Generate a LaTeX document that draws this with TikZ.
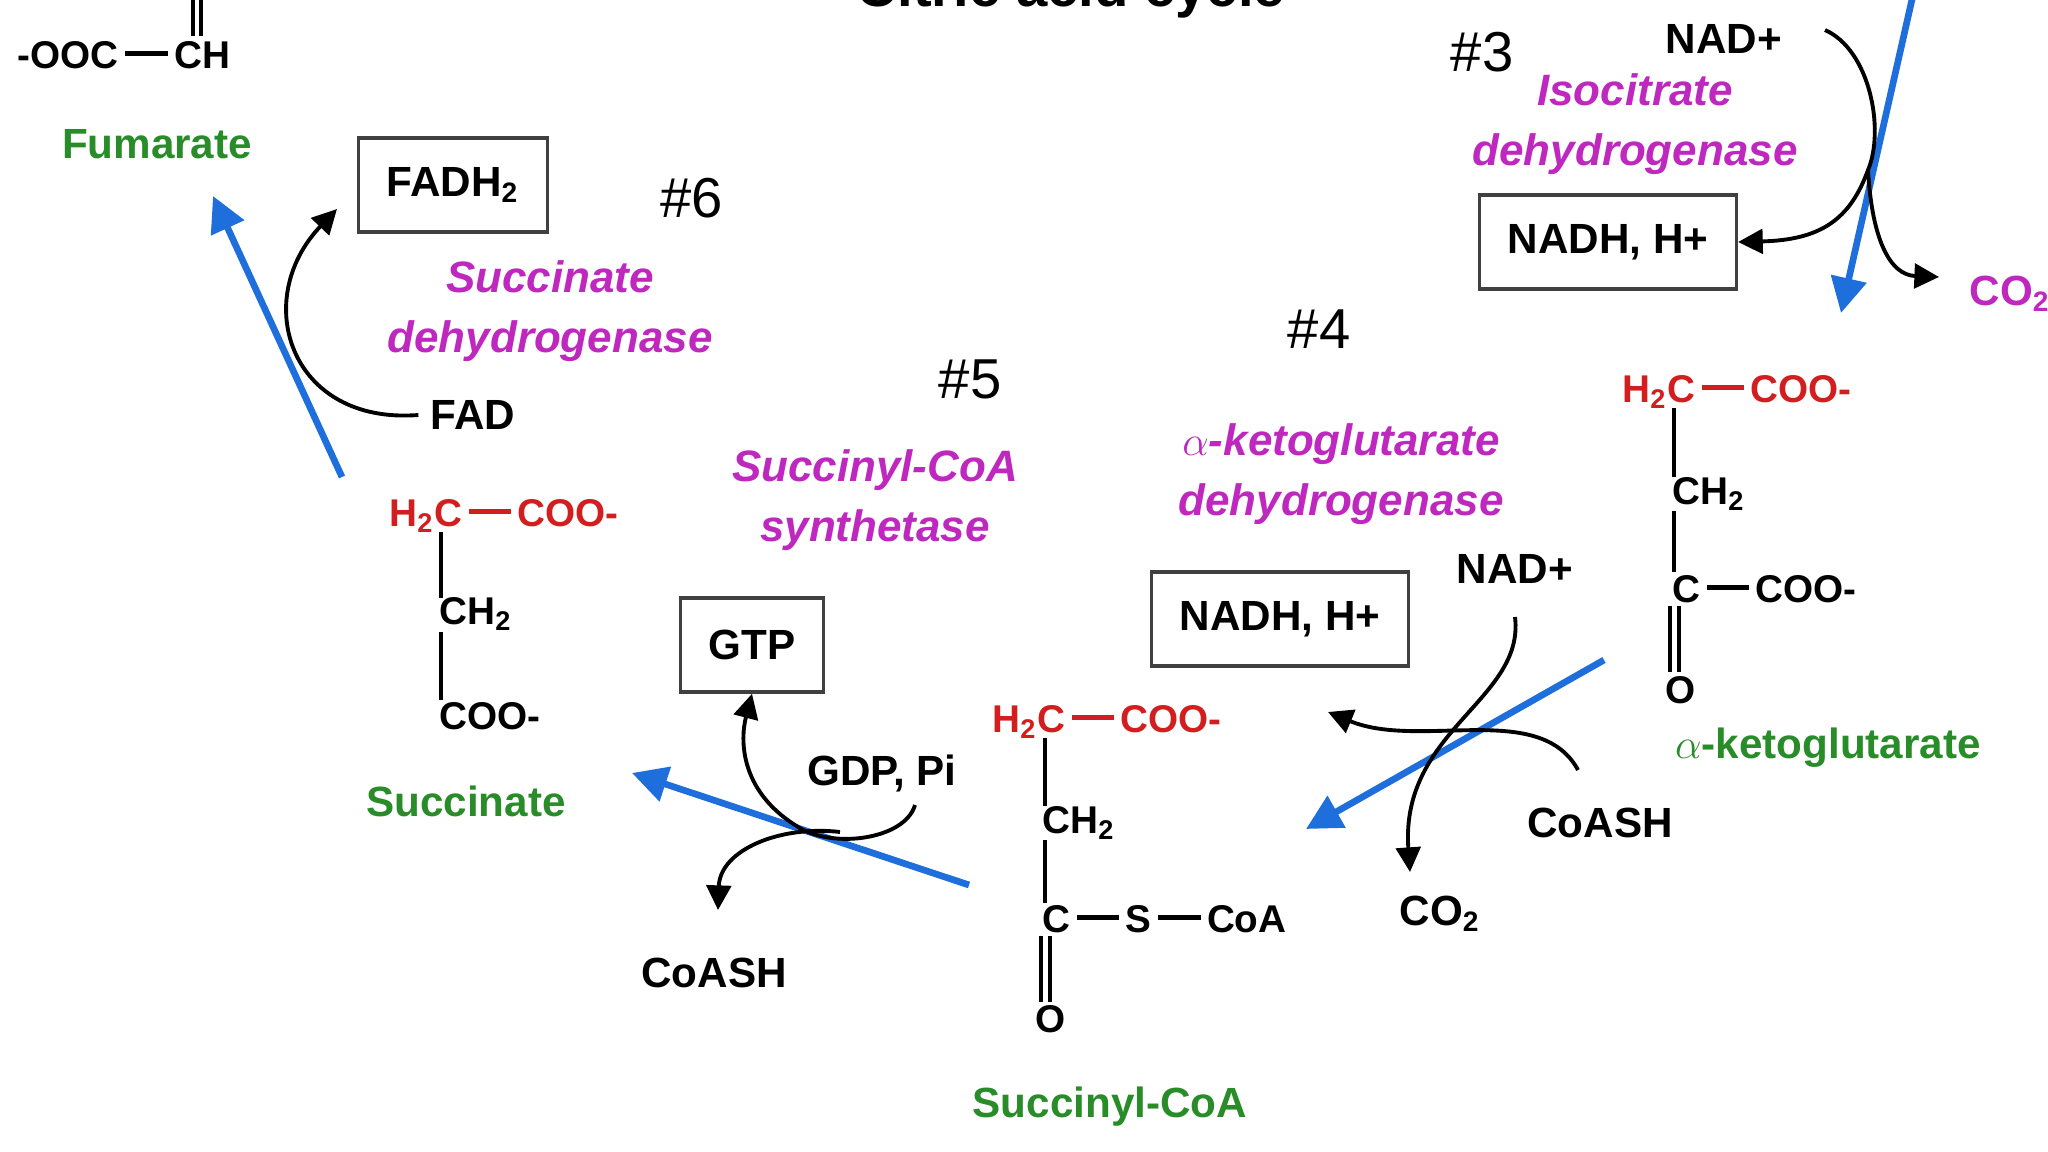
\documentclass[tikz,border=0pt]{standalone}
\usepackage{fontspec}
\setmainfont{Liberation Sans}
\usetikzlibrary{arrows.meta}
\definecolor{gr}{RGB}{40,140,40}
\definecolor{pu}{RGB}{190,40,190}
\definecolor{rd}{RGB}{210,30,30}
\definecolor{bl}{RGB}{30,110,220}
\newcommand{\bnd}{\,\rule[0.32em]{1.1em}{0.13em}\,}
\begin{document}
\begin{tikzpicture}[x=0.01cm,y=-0.01cm,
  lab/.style={font=\fontsize{12}{14}\selectfont\bfseries},
  mol/.style={font=\fontsize{11}{13}\selectfont\bfseries},
  grn/.style={lab,text=gr},
  enz/.style={font=\fontsize{12.5}{17}\selectfont\bfseries\itshape,text=pu,align=center},
  num/.style={font=\fontsize{16}{18}\selectfont},
  box/.style={lab,draw=black!75,line width=1pt,minimum height=0.94cm,inner xsep=8pt},
  bond/.style={line width=1.3pt},
  blu/.style={bl,line width=1.9pt,-{Triangle[length=10pt,width=10pt]}},
  blk/.style={black,line width=1.1pt,-{Triangle[length=7pt,width=7pt]}}]
\useasboundingbox (0,0) rectangle (2048,1152);
% title
\node[font=\fontsize{16}{18}\selectfont\bfseries] (title) at (1071,-8) {Citric acid cycle};
% fumarate
\node[mol] (fum) at (124,55) {-OOC\bnd CH};
\draw[bond] (193,0) -- (193,36) (201,0) -- (201,36);
\node[grn] (fumn) at (157,144) {Fumarate};
\node[box] (fadh) at (453,185) {FADH\textsubscript{2}};
\node[num] (n6) at (692,198) {\#6};
\node[enz] (sdh) at (550,311) {Succinate\\dehydrogenase};
\node[lab] (fad) at (473,415) {FAD};
\coordinate (b6s) at (342,477); \coordinate (b6e) at (213,196);
\draw[blu] (b6s) -- (b6e);
\draw[blk] (fad.west) .. controls (290,425) and (250,300) .. (337,209);
% succinate
\node[mol,text=rd,anchor=west] (suc1) at (377,516) {H\textsubscript{2}C\bnd COO-};
\node[mol,anchor=west] (suc2) at (427,614) {CH\textsubscript{2}};
\node[mol,anchor=west] (suc3) at (427,716) {COO-};
\draw[bond] (441,532) -- (441,598) (441,632) -- (441,700);
\node[grn] (sucn) at (466,801) {Succinate};
% step 5
\node[num] (n5) at (970,379) {\#5};
\node[enz] (scs) at (875,500) {Succinyl-CoA\\synthetase};
\node[box] (gtp) at (752,645) {GTP};
\node[lab] (gdp) at (882,773) {GDP, Pi};
\node[lab] (coash5) at (714,973) {CoASH};
\coordinate (b5s) at (969,885); \coordinate (b5e) at (632,773);
\draw[blu] (b5s) -- (b5e);
\draw[blk] (915,805) .. controls (905,840) and (830,850) .. (795,825) .. controls (740,790) and (740,740) .. (gtp.south);
\draw[blk] (840,832) .. controls (780,825) and (720,850) .. (718,910);
% succinyl-CoA
\node[mol,text=rd,anchor=west] (sc1) at (980,722) {H\textsubscript{2}C\bnd COO-};
\node[mol,anchor=west] (sc2) at (1030,823) {CH\textsubscript{2}};
\node[mol,anchor=west] (sc3) at (1030,919) {C\bnd S\bnd CoA};
\node[mol] (sc4) at (1051,1019) {O};
\draw[bond] (1045,738) -- (1045,806) (1045,840) -- (1045,903);
\draw[bond] (1041,936) -- (1041,1002) (1050,936) -- (1050,1002);
\node[grn] (scn) at (1110,1107) {Succinyl-CoA};
% step 4
\node[num] (n4) at (1319,329) {\#4};
\node[enz] (akd) at (1341,474) {$\alpha$-ketoglutarate\\dehydrogenase};
\node[box] (nadh4) at (1280,619) {NADH, H+};
\node[lab] (nad4) at (1515,569) {NAD+};
\node[lab] (coash4) at (1600,823) {CoASH};
\node[lab] (co24) at (1440,914) {CO\textsubscript{2}};
\coordinate (b4s) at (1604,660); \coordinate (b4e) at (1306,829);
\draw[blu] (b4s) -- (b4e);
\draw[blk] (1515,617) .. controls (1525,700) and (1400,730) .. (1410,872);
\draw[blk] (1578,770) .. controls (1540,700) and (1420,750) .. (1328,712);
% alpha-ketoglutarate
\node[mol,text=rd,anchor=west] (ak1) at (1610,392) {H\textsubscript{2}C\bnd COO-};
\node[mol,anchor=west] (ak2) at (1660,494) {CH\textsubscript{2}};
\node[mol,anchor=west] (ak3) at (1660,589) {C\bnd COO-};
\node[mol] (ak4) at (1681,690) {O};
\draw[bond] (1674,408) -- (1674,477) (1674,511) -- (1674,572);
\draw[bond] (1670,606) -- (1670,672) (1679,606) -- (1679,672);
\node[grn] (akn) at (1828,748) {$\alpha$-ketoglutarate};
% step 3
\node[num] (n3) at (1482,52) {\#3};
\node[lab] (nad3) at (1724,39) {NAD+};
\node[enz] (idh) at (1635,124) {Isocitrate\\dehydrogenase};
\node[box] (nadh3) at (1608,242) {NADH, H+};
\node[lab,text=pu] (co23) at (2010,294) {CO\textsubscript{2}};
\coordinate (b3s) at (1913,-5); \coordinate (b3e) at (1841,313);
\draw[blu] (b3s) -- (b3e);
\draw[blk] (1825,30) .. controls (1870,50) and (1885,130) .. (1868,170) .. controls (1850,220) and (1820,240) .. (nadh3.east);
\draw[blk] (1868,170) .. controls (1872,240) and (1890,275) .. (1939,277);
\end{tikzpicture}
\end{document}
